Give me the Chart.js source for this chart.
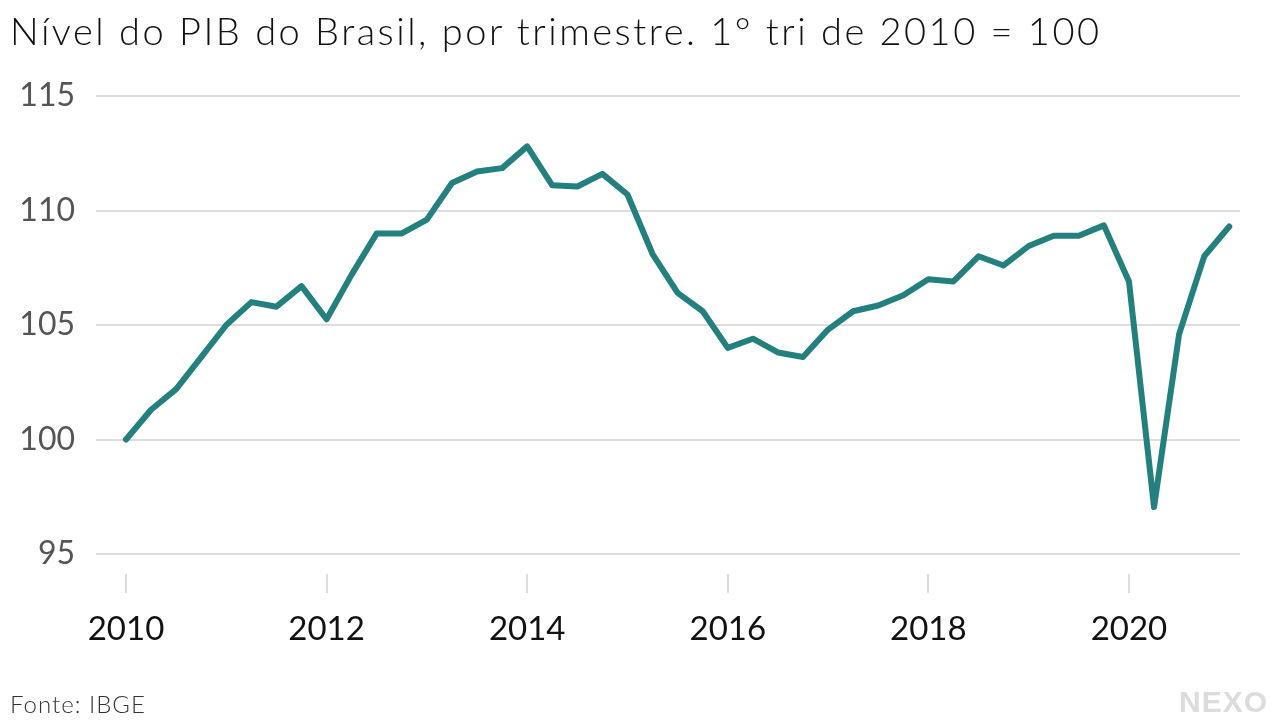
<!DOCTYPE html>
<html>
<head>
<meta charset="utf-8">
<script src="https://cdn.jsdelivr.net/npm/chart.js@4"></script>
<style>
  body{ margin:0; background:#fff; }
  #wrap{ position:relative; width:1280px; height:720px; overflow:hidden; }
  #title{ position:absolute; left:10px; top:7px; font-family:Lato, sans-serif; font-weight:300; font-size:38px; letter-spacing:2.5px; color:#111; white-space:nowrap; }
  #fonte{ position:absolute; left:10px; top:689px; font-family:Lato, sans-serif; font-weight:300; font-size:24px; letter-spacing:1px; color:#333; }
  #logo{ position:absolute; right:12px; top:685px; font-family:"Liberation Sans", Arial, sans-serif; font-weight:bold; font-size:30px; color:#dcdcdc; letter-spacing:1px; }
  canvas{ position:absolute; left:0; top:0; }
</style>
</head>
<body>
<div id="wrap">
  <canvas id="pibChart" width="1280" height="720"></canvas>
  <div id="title">Nível do PIB do Brasil, por trimestre. 1° tri de 2010 = 100</div>
  <div id="fonte">Fonte: IBGE</div>
  <div id="logo">NEXO</div>
</div>
<script>
// trimestres, 1T2010 .. 1T2021
const quarters = [
  '2010 T1','2010 T2','2010 T3','2010 T4',
  '2011 T1','2011 T2','2011 T3','2011 T4',
  '2012 T1','2012 T2','2012 T3','2012 T4',
  '2013 T1','2013 T2','2013 T3','2013 T4',
  '2014 T1','2014 T2','2014 T3','2014 T4',
  '2015 T1','2015 T2','2015 T3','2015 T4',
  '2016 T1','2016 T2','2016 T3','2016 T4',
  '2017 T1','2017 T2','2017 T3','2017 T4',
  '2018 T1','2018 T2','2018 T3','2018 T4',
  '2019 T1','2019 T2','2019 T3','2019 T4',
  '2020 T1','2020 T2','2020 T3','2020 T4',
  '2021 T1'
];
const pib = [
  100.0, 101.3, 102.2, 103.6,
  105.0, 106.0, 105.8, 106.7,
  105.25, 107.2, 109.0, 109.0,
  109.6, 111.2, 111.7, 111.85,
  112.8, 111.1, 111.05, 111.6,
  110.7, 108.1, 106.4, 105.6,
  104.0, 104.4, 103.8, 103.6,
  104.8, 105.6, 105.85, 106.3,
  107.0, 106.9, 108.0, 107.6,
  108.45, 108.9, 108.9, 109.35,
  106.9, 97.05, 104.6, 108.0,
  109.3
];
const yearTicks = [2010, 2012, 2014, 2016, 2018, 2020];
const yTicks = [95, 100, 105, 110, 115];

const points = quarters.map((q, i) => {
  const [yr, t] = q.split(' T');
  return { x: Number(yr) + (Number(t) - 1) / 4, y: pib[i] };
});

const tickMarks = {
  id: 'tickMarks',
  afterDraw(chart){
    const ctx = chart.ctx, xs = chart.scales.x, b = chart.chartArea.bottom;
    ctx.save();
    ctx.strokeStyle = '#dddddd';
    ctx.lineWidth = 2;
    yearTicks.forEach(v => {
      const px = Math.round(xs.getPixelForValue(v));
      ctx.beginPath();
      ctx.moveTo(px, b + 20);
      ctx.lineTo(px, b + 39);
      ctx.stroke();
    });
    ctx.restore();
  }
};

new Chart(document.getElementById('pibChart').getContext('2d'), {
  type: 'line',
  data: { datasets: [{ data: points, borderColor: '#23807e', borderWidth: 6, borderJoinStyle: 'round', borderCapStyle: 'round', pointRadius: 0, tension: 0, fill: false }] },
  options: {
    responsive: false, animation: false,
    layout: { padding: { top: 96, right: 40, bottom: 0, left: 0 } },
    plugins: { legend: { display: false }, tooltip: { enabled: false } },
    scales: {
      x: {
        type: 'linear', min: 2009.701, max: 2021.107,
        afterBuildTicks: s => { s.ticks = yearTicks.map(v => ({ value: v })); },
        afterFit: s => { s.height = 166; },
        grid: { display: false }, border: { display: false },
        ticks: { padding: 48, color: '#111', font: { family: 'Lato', size: 33 }, callback: v => String(v), maxRotation: 0 }
      },
      y: {
        min: 95, max: 115,
        afterBuildTicks: s => { s.ticks = yTicks.map(v => ({ value: v })); },
        afterFit: s => { s.width = 96; },
        grid: { color: '#dddddd', lineWidth: 2, drawTicks: false }, border: { display: false },
        ticks: { padding: 21, color: '#555', font: { family: 'Lato', size: 32 } }
      }
    }
  },
  plugins: [tickMarks]
});
</script>
</body>
</html>
